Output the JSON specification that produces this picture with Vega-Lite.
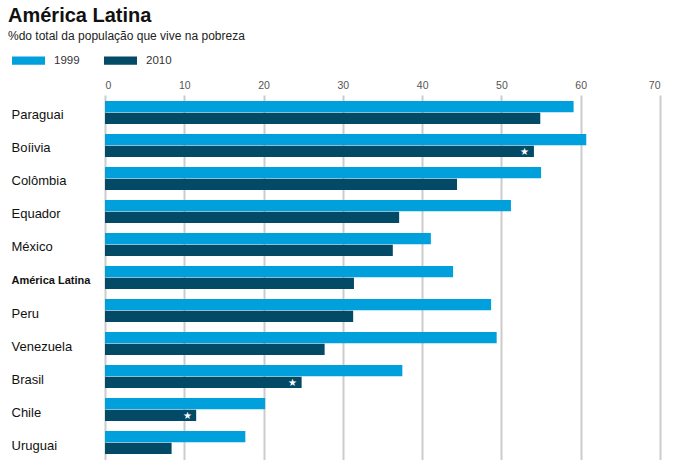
{
  "$schema": "https://vega.github.io/schema/vega-lite/v6.json",
  "width": 555,
  "height": 365,
  "autosize": {"type": "none"},
  "padding": {"left": 105, "top": 95, "right": 17, "bottom": 0},
  "background": "white",
  "title": {
    "text": "América Latina",
    "subtitle": "%do total da população que vive na pobreza",
    "anchor": "start",
    "frame": "group",
    "dx": -97,
    "font": "Liberation Sans",
    "fontSize": 20,
    "fontWeight": "bold",
    "color": "#111111",
    "subtitleFont": "Liberation Sans",
    "subtitleFontSize": 12,
    "subtitleColor": "#222222",
    "subtitlePadding": 5,
    "offset": 2
  },
  "config": {
    "view": {"stroke": null},
    "font": "Liberation Sans"
  },
  "data": {
    "values": [
      {"pais": "Paraguai", "ano": "1999", "valor": 59.1, "nota": ""},
      {"pais": "Paraguai", "ano": "2010", "valor": 54.9, "nota": ""},
      {"pais": "Boíivia", "ano": "1999", "valor": 60.7, "nota": ""},
      {"pais": "Boíivia", "ano": "2010", "valor": 54.1, "nota": "★"},
      {"pais": "Colômbia", "ano": "1999", "valor": 55.0, "nota": ""},
      {"pais": "Colômbia", "ano": "2010", "valor": 44.4, "nota": ""},
      {"pais": "Equador", "ano": "1999", "valor": 51.2, "nota": ""},
      {"pais": "Equador", "ano": "2010", "valor": 37.1, "nota": ""},
      {"pais": "México", "ano": "1999", "valor": 41.1, "nota": ""},
      {"pais": "México", "ano": "2010", "valor": 36.3, "nota": ""},
      {"pais": "América Latina", "ano": "1999", "valor": 43.9, "nota": ""},
      {"pais": "América Latina", "ano": "2010", "valor": 31.4, "nota": ""},
      {"pais": "Peru", "ano": "1999", "valor": 48.7, "nota": ""},
      {"pais": "Peru", "ano": "2010", "valor": 31.3, "nota": ""},
      {"pais": "Venezuela", "ano": "1999", "valor": 49.4, "nota": ""},
      {"pais": "Venezuela", "ano": "2010", "valor": 27.7, "nota": ""},
      {"pais": "Brasil", "ano": "1999", "valor": 37.5, "nota": ""},
      {"pais": "Brasil", "ano": "2010", "valor": 24.8, "nota": "★"},
      {"pais": "Chile", "ano": "1999", "valor": 20.2, "nota": ""},
      {"pais": "Chile", "ano": "2010", "valor": 11.5, "nota": "★"},
      {"pais": "Uruguai", "ano": "1999", "valor": 17.7, "nota": ""},
      {"pais": "Uruguai", "ano": "2010", "valor": 8.4, "nota": ""}
    ]
  },
  "encoding": {
    "y": {
      "field": "pais",
      "type": "nominal",
      "sort": ["Paraguai", "Boíivia", "Colômbia", "Equador", "México", "América Latina", "Peru", "Venezuela", "Brasil", "Chile", "Uruguai"],
      "scale": {"paddingInner": 0.3, "paddingOuter": 0.18},
      "axis": {
        "title": null,
        "domain": false,
        "ticks": false,
        "labelAlign": "left",
        "labelPadding": 94,
        "labelFont": "Liberation Sans",
        "labelFontSize": {"condition": {"test": "datum.value == 'América Latina'", "value": 11}, "value": 13},
        "labelFontWeight": {"condition": {"test": "datum.value == 'América Latina'", "value": "bold"}, "value": "normal"},
        "labelColor": "#111111",
        "labelBaseline": "middle",
        "labelOffset": 3
      }
    },
    "yOffset": {"field": "ano", "type": "nominal", "scale": {"paddingInner": 0.04}},
    "x": {
      "field": "valor",
      "type": "quantitative",
      "scale": {"domain": [0, 70]},
      "axis": {
        "orient": "top",
        "title": null,
        "values": [0, 10, 20, 30, 40, 50, 60, 70],
        "domain": false,
        "ticks": false,
        "labelPadding": 5,
        "labelFont": "Liberation Sans",
        "labelFontSize": 10.5,
        "labelColor": "#555555",
        "grid": true,
        "gridColor": "#cccccc",
        "gridWidth": 2
      }
    }
  },
  "layer": [
    {
      "mark": {"type": "bar"},
      "encoding": {
        "color": {
          "field": "ano",
          "type": "nominal",
          "scale": {"domain": ["1999", "2010"], "range": ["#00a0dc", "#034a66"]},
          "legend": {
            "title": null,
            "orient": "none",
            "legendX": -93,
            "legendY": -51,
            "direction": "horizontal",
            "symbolType": "M-1,-0.25H1V0.25H-1Z",
            "symbolSize": 1089,
            "symbolStrokeWidth": 0,
            "labelFont": "Liberation Sans",
            "labelFontSize": 11.5,
            "labelColor": "#333333",
            "labelOffset": 9,
            "columnPadding": 24
          }
        }
      }
    },
    {
      "mark": {"type": "text", "align": "center", "baseline": "middle", "dx": -9, "dy": 1, "color": "white", "fontSize": 10},
      "encoding": {"text": {"field": "nota"}}
    }
  ]
}
